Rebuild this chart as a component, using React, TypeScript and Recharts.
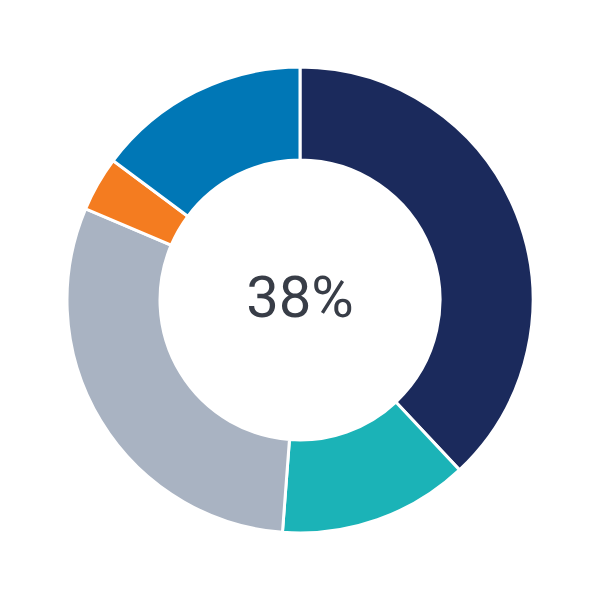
import { PieChart, Pie, Cell } from "recharts"

const segments = ["Navy", "Teal", "Gray", "Orange", "Blue"]
const shares = [38, 13.2, 30.2, 3.8, 14.8]
const colors = ["#1b2a5c", "#1bb3b7", "#a9b3c2", "#f47c20", "#0077b6"]
const centerLabel = "38%"

const data = segments.map((name, i) => ({ name, value: shares[i] }))

export default function App() {
  return (
    <div style={{ position: "fixed", top: 0, left: 0, width: 600, height: 600, background: "#fff" }}>
      <PieChart width={600} height={600} margin={{ top: 0, right: 0, bottom: 0, left: 0 }}>
        <Pie
          data={data}
          dataKey="value"
          cx={300}
          cy={300}
          innerRadius={140}
          outerRadius={233}
          startAngle={90}
          endAngle={-270}
          stroke="#fff"
          strokeWidth={3}
          isAnimationActive={false}
        >
          {data.map((d, i) => (
            <Cell key={d.name} fill={colors[i]} />
          ))}
        </Pie>
        <text
          x={300}
          y={297}
          textAnchor="middle"
          dominantBaseline="central"
          fontFamily="Roboto, 'Liberation Sans', sans-serif"
          fontSize={58}
          fill="#383d47"
        >
          {centerLabel}
        </text>
      </PieChart>
    </div>
  )
}
